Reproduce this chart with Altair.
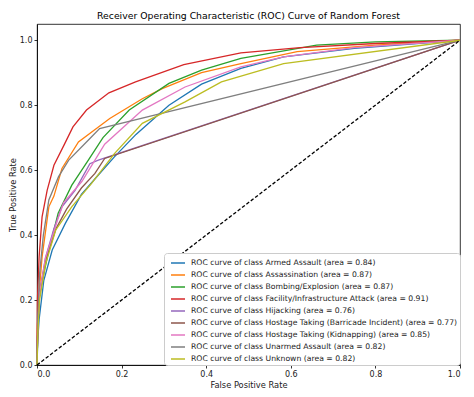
import altair as alt
import pandas as pd

classes = [
    "ROC curve of class Armed Assault (area = 0.84)",
    "ROC curve of class Assassination (area = 0.87)",
    "ROC curve of class Bombing/Explosion (area = 0.87)",
    "ROC curve of class Facility/Infrastructure Attack (area = 0.91)",
    "ROC curve of class Hijacking (area = 0.76)",
    "ROC curve of class Hostage Taking (Barricade Incident) (area = 0.77)",
    "ROC curve of class Hostage Taking (Kidnapping) (area = 0.85)",
    "ROC curve of class Unarmed Assault (area = 0.82)",
    "ROC curve of class Unknown (area = 0.82)",
]
colors = ["#1f77b4", "#ff7f0e", "#2ca02c", "#d62728", "#9467bd",
          "#8c564b", "#e377c2", "#7f7f7f", "#bcbd22"]

fpr_armed = [0, 0.002, 0.005, 0.016, 0.036, 0.067, 0.105, 0.145, 0.183, 0.234, 0.312, 0.389, 0.482, 0.583, 0.75, 1]
tpr_armed = [0, 0.08, 0.14, 0.26, 0.354, 0.436, 0.525, 0.585, 0.641, 0.71, 0.80, 0.865, 0.913, 0.949, 0.975, 1]

fpr_assass = [0, 0.001, 0.005, 0.012, 0.028, 0.04, 0.059, 0.098, 0.172, 0.249, 0.296, 0.389, 0.482, 0.615, 0.8, 1]
tpr_assass = [0, 0.12, 0.22, 0.333, 0.487, 0.52, 0.605, 0.687, 0.759, 0.82, 0.851, 0.9, 0.928, 0.965, 0.985, 1]

fpr_bomb = [0, 0.002, 0.006, 0.028, 0.05, 0.082, 0.121, 0.156, 0.218, 0.312, 0.389, 0.482, 0.661, 0.8, 1]
tpr_bomb = [0, 0.12, 0.22, 0.354, 0.467, 0.553, 0.63, 0.70, 0.785, 0.867, 0.908, 0.944, 0.985, 0.995, 1]

fpr_fac = [0, 0.001, 0.005, 0.012, 0.024, 0.04, 0.065, 0.085, 0.117, 0.17, 0.233, 0.347, 0.482, 0.622, 0.8, 1]
tpr_fac = [0, 0.2, 0.333, 0.456, 0.538, 0.615, 0.68, 0.733, 0.785, 0.838, 0.872, 0.925, 0.961, 0.977, 0.99, 1]

fpr_hij = [0, 0.002, 0.006, 0.02, 0.04, 0.059, 0.09, 0.125, 0.145, 1]
tpr_hij = [0, 0.12, 0.22, 0.33, 0.42, 0.487, 0.538, 0.62, 0.631, 1]

fpr_barr = [0, 0.002, 0.006, 0.02, 0.045, 0.07, 0.105, 0.137, 0.16, 1]
tpr_barr = [0, 0.12, 0.22, 0.32, 0.42, 0.48, 0.545, 0.59, 0.636, 1]

fpr_kid = [0, 0.002, 0.006, 0.02, 0.051, 0.063, 0.106, 0.16, 0.249, 0.35, 0.482, 0.583, 0.75, 1]
tpr_kid = [0, 0.12, 0.22, 0.33, 0.456, 0.50, 0.565, 0.68, 0.785, 0.856, 0.918, 0.949, 0.977, 1]

fpr_unarm = [0, 0.002, 0.006, 0.015, 0.028, 0.051, 0.075, 0.121, 0.148, 1]
tpr_unarm = [0, 0.15, 0.28, 0.40, 0.508, 0.58, 0.631, 0.692, 0.728, 1]

fpr_unk = [0, 0.002, 0.006, 0.02, 0.044, 0.082, 0.129, 0.183, 0.249, 0.35, 0.436, 0.583, 1]
tpr_unk = [0, 0.1, 0.2, 0.31, 0.415, 0.487, 0.559, 0.651, 0.744, 0.81, 0.872, 0.928, 1]

fprs = [fpr_armed, fpr_assass, fpr_bomb, fpr_fac, fpr_hij, fpr_barr, fpr_kid, fpr_unarm, fpr_unk]
tprs = [tpr_armed, tpr_assass, tpr_bomb, tpr_fac, tpr_hij, tpr_barr, tpr_kid, tpr_unarm, tpr_unk]

diag_x = [0, 1]
diag_y = [0, 1]

rows = []
for ci, (name, fx, ty) in enumerate(zip(classes, fprs, tprs)):
    for i, (a, b) in enumerate(zip(fx, ty)):
        rows.append({"cls": name, "ci": ci, "idx": i, "fpr": a, "tpr": b})
df = pd.DataFrame(rows)
diag = pd.DataFrame({"fpr": diag_x, "tpr": diag_y})

W = 423
H = 341

xscale = alt.Scale(domain=[0, 1], nice=False, zero=False)
yscale = alt.Scale(domain=[0, 1.05], nice=False, zero=False)
xaxis = alt.Axis(values=[0, 0.2, 0.4, 0.6, 0.8, 1.0], format=".1f", title="False Positive Rate")
yaxis = alt.Axis(values=[0, 0.2, 0.4, 0.6, 0.8, 1.0], format=".1f", title="True Positive Rate")

lines = alt.Chart(df).mark_line(strokeWidth=1.3).encode(
    x=alt.X("fpr:Q", scale=xscale, axis=xaxis),
    y=alt.Y("tpr:Q", scale=yscale, axis=yaxis),
    color=alt.Color(
        "cls:N",
        scale=alt.Scale(domain=classes, range=colors),
        sort=classes,
        legend=alt.Legend(
            title=None,
            orient="none",
            legendX=127,
            legendY=229,
            labelFont="DejaVu Sans",
            labelFontSize=7.7,
            labelColor="#222222",
            labelLimit=500,
            symbolType="stroke",
            symbolSize=196,
            symbolStrokeWidth=1.5,
            symbolOffset=4,
            labelOffset=5,
            rowPadding=-3,
            padding=2,
            strokeColor="#cccccc",
            fillColor="white",
            cornerRadius=3,
        ),
    ),
    order=alt.Order("idx:Q"),
)

diagonal = alt.Chart(diag).mark_line(color="black", strokeWidth=1.3, strokeDash=[3.5, 2]).encode(
    x=alt.X("fpr:Q", scale=xscale),
    y=alt.Y("tpr:Q", scale=yscale),
)

chart = alt.layer(lines, diagonal).properties(
    width=W,
    height=H,
    title=alt.Title(
        "Receiver Operating Characteristic (ROC) Curve of Random Forest",
        font="DejaVu Sans",
        fontSize=9.3,
        fontWeight="normal",
        color="black",
        offset=3,
    ),
    padding={"top": 3, "left": 0, "right": 0, "bottom": 0},
    background="white",
).configure_axis(
    labelFont="DejaVu Sans",
    labelFontSize=8,
    labelColor="#222222",
    titleFont="DejaVu Sans",
    titleFontSize=8.3,
    titleFontWeight="normal",
    titleColor="#222222",
    tickColor="black",
    domainColor="black",
    domainWidth=0.8,
    tickWidth=0.8,
    tickSize=3,
    labelPadding=2,
    titlePadding=2,
    grid=False,
).configure_view(
    stroke="black",
    strokeWidth=0.8,
)

chart.save("out.html", embed_options={"renderer": "svg", "actions": False})
